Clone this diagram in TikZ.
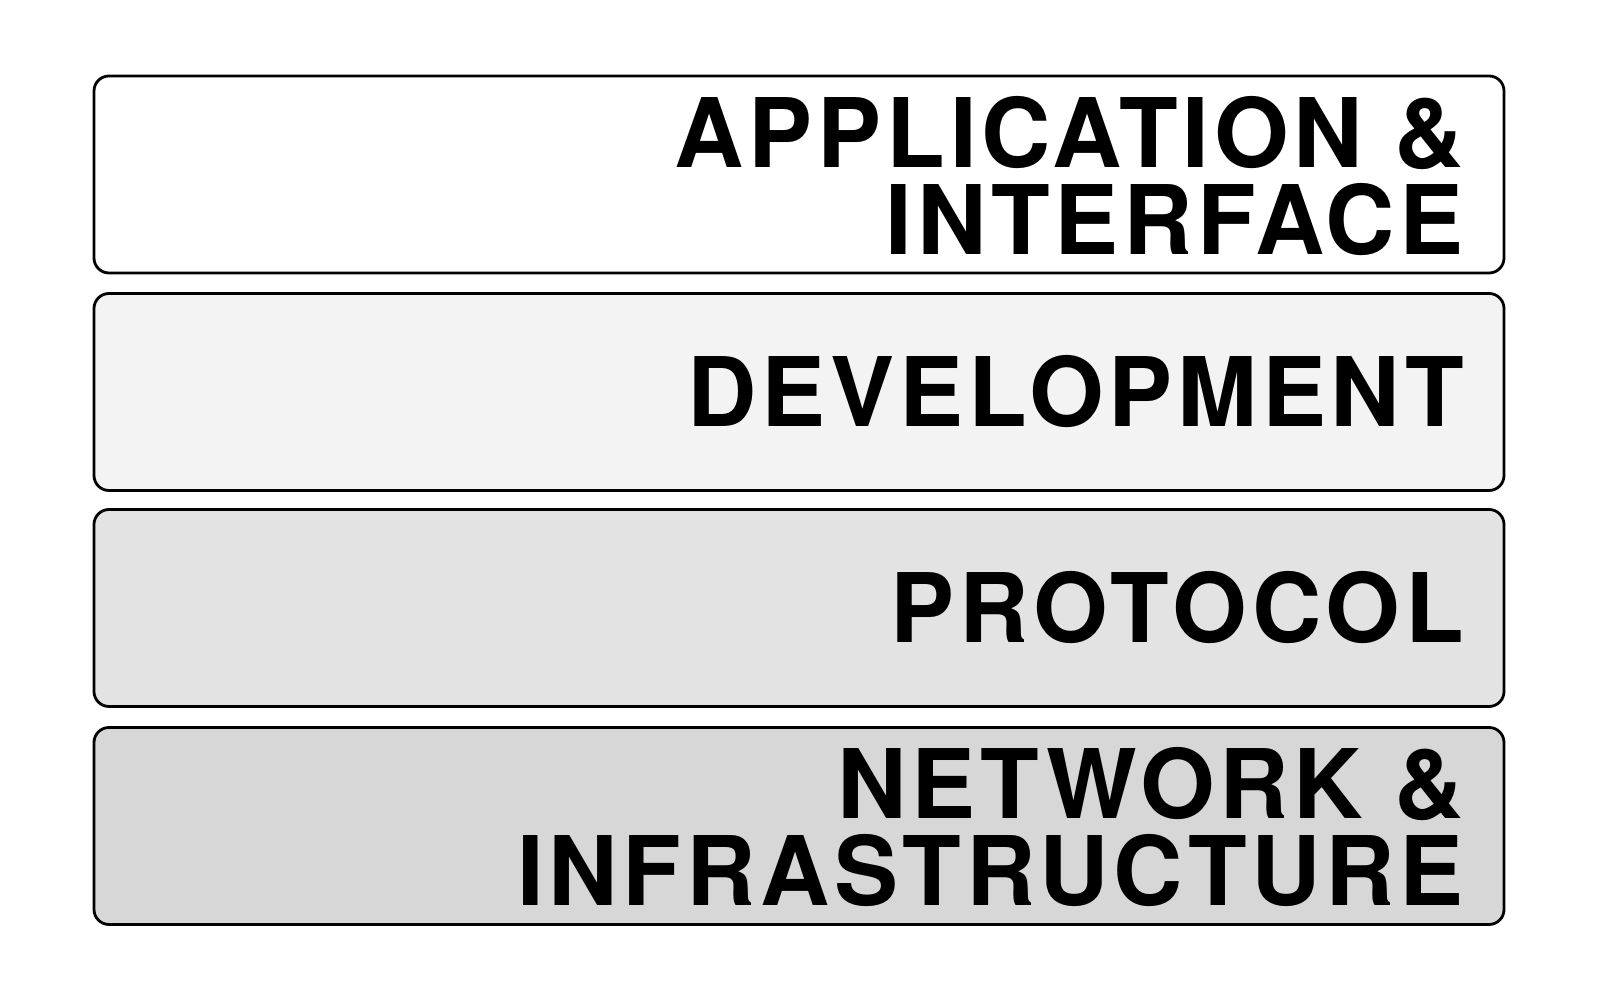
\documentclass[tikz,border=0pt]{standalone}
\usepackage{fontspec}
\setmainfont{TeX Gyre Heros}[LetterSpace=5]
\definecolor{f1}{HTML}{FFFFFF}
\definecolor{f2}{HTML}{F3F3F3}
\definecolor{f3}{HTML}{E3E3E3}
\definecolor{f4}{HTML}{D7D7D7}
\begin{document}
\begin{tikzpicture}[x=1pt,y=1pt,
  layer/.style={draw=black,line width=2.8pt,rounded corners=15pt,minimum width=1410pt,minimum height=197pt,inner sep=0pt},
  lbl/.style={anchor=east,align=right,font=\fontsize{96}{87}\selectfont\bfseries,inner sep=0pt}]
\useasboundingbox (0,0) rectangle (1600,1000);
\node[layer,fill=f1] (b1) at (799,825.5) {};
\node[layer,fill=f2] (b2) at (799,608) {};
\node[layer,fill=f3] (b3) at (799,392) {};
\node[layer,fill=f4] (b4) at (799,174) {};
\node[lbl] (t1) at (1464,824) {APPLICATION \&\\INTERFACE};
\node[lbl] (t2) at (1464,608) {DEVELOPMENT};
\node[lbl] (t3) at (1464,392) {PROTOCOL};
\node[lbl] (t4) at (1464,173) {NETWORK \&\\INFRASTRUCTURE};
\end{tikzpicture}
\end{document}
